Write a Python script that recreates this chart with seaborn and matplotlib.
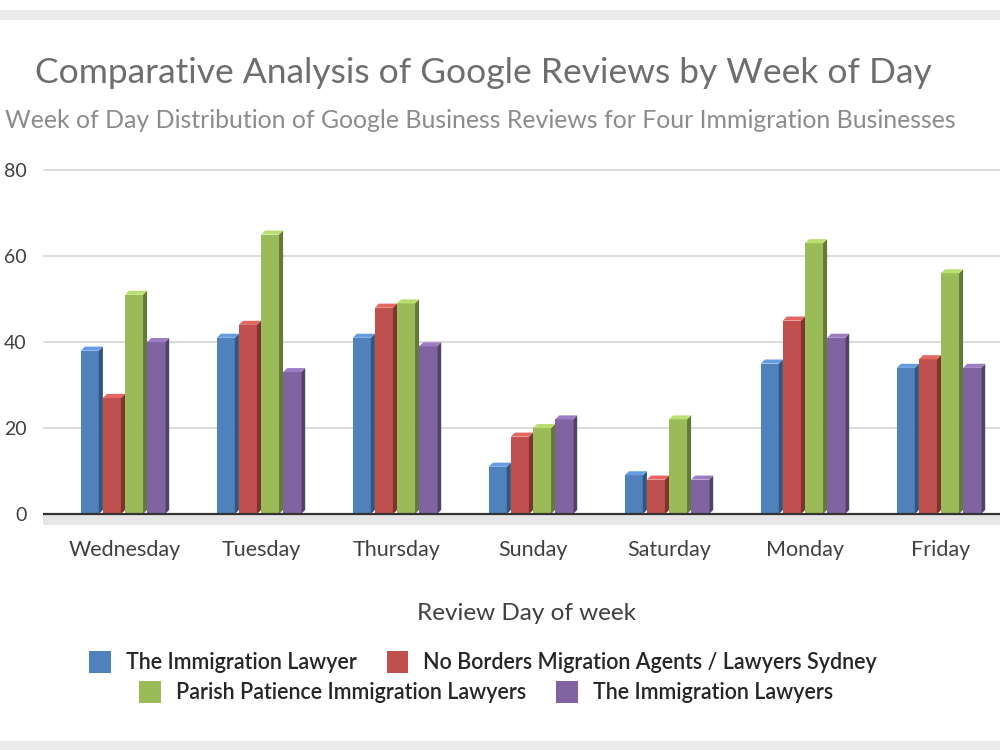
import numpy as np
import pandas as pd
import matplotlib.pyplot as plt
import matplotlib.colors as mcolors
from matplotlib.patches import Polygon, Patch, Rectangle
import seaborn as sns

days = ['Wednesday', 'Tuesday', 'Thursday', 'Sunday', 'Saturday', 'Monday', 'Friday']
series = ['The Immigration Lawyer',
          'No Borders Migration Agents / Lawyers Sydney',
          'Parish Patience Immigration Lawyers',
          'The Immigration Lawyers']
immigration_lawyer = [38, 41, 41, 11, 9, 35, 34]
no_borders = [27, 44, 48, 18, 8, 45, 36]
parish_patience = [51, 65, 49, 20, 22, 63, 56]
immigration_lawyers = [40, 33, 39, 22, 8, 41, 34]
colors = ['#4F81BD', '#C0504D', '#9BBB59', '#8064A2']

df = pd.DataFrame({
    'day': days * 4,
    'series': np.repeat(series, len(days)),
    'reviews': immigration_lawyer + no_borders + parish_patience + immigration_lawyers,
})

sns.set_theme(style='white')
plt.rcParams['font.family'] = ['Lato', 'DejaVu Sans']

fig = plt.figure(figsize=(10, 7.5), dpi=100)
ax = fig.add_axes([0.0434, 0.3003, 0.9656, 0.4757])

sns.barplot(data=df, x='day', y='reviews', hue='series', order=days,
            hue_order=series, palette=colors, width=0.65, legend=False,
            saturation=1, ax=ax)

# fake 3D look: shrink front face, add side and top faces
dx, dy = 0.03, 0.95
for cont, col in zip(ax.containers, colors):
    side = tuple(c * 0.65 for c in mcolors.to_rgb(col))
    top = tuple(min(1, c * 1.12 + 0.05) for c in mcolors.to_rgb(col))
    for bar in cont:
        x, w, h = bar.get_x(), bar.get_width(), bar.get_height()
        bar.set_width(w - dx)
        bar.set_edgecolor('none')
        xr = x + w - dx
        ax.add_patch(Polygon([(xr, 0), (x + w, dy), (x + w, h + dy), (xr, h)],
                             closed=True, facecolor=side, edgecolor='none', zorder=3))
        ax.add_patch(Polygon([(x, h), (x + dx, h + dy), (x + w, h + dy), (xr, h)],
                             closed=True, facecolor=top, edgecolor='none', zorder=3))

ax.set_xlim(-0.6, 6.5)
ax.set_ylim(-2.5, 80.5)
ax.axhspan(-2.5, 0, color='#E6E6E6', zorder=0, lw=0)
ax.axhline(0, color='#333333', lw=1.6, zorder=4)
for yv in [20, 40, 60, 80]:
    ax.axhline(yv, color='#D9D9D9', lw=1.3, zorder=0)
ax.set_yticks([0, 20, 40, 60, 80])
for s in ax.spines.values():
    s.set_visible(False)
ax.tick_params(axis='both', length=0, colors='#404040')
ax.tick_params(axis='y', pad=12, labelsize=14)
ax.tick_params(axis='x', pad=11, labelsize=15.5)
ax.set_ylabel('')
ax.set_xlabel('Review Day of week', fontsize=17.5, color='#404040', labelpad=31)

fig.text(0.035, 0.903, 'Comparative Analysis of Google Reviews by Week of Day',
         fontsize=25.5, color='#6E6E6E', ha='left', va='center')
fig.text(0.005, 0.84, 'Week of Day Distribution of Google Business Reviews for Four Immigration Businesses',
         fontsize=17.9, color='#8C8C8C', ha='left', va='center')

handles = [Patch(facecolor=c, edgecolor='none') for c in colors]
leg_kw = dict(ncol=2, frameon=False, fontsize=15.5, handlelength=1.0, handleheight=1.15,
              columnspacing=1.4, handletextpad=0.7, loc='center')
leg1 = fig.legend(handles[:2], series[:2], bbox_to_anchor=(0.483, 0.117), **leg_kw)
leg2 = fig.legend(handles[2:], series[2:], bbox_to_anchor=(0.486, 0.077), **leg_kw)
for leg in (leg1, leg2):
    for t in leg.get_texts():
        t.set_color('#262626')
        t.set_fontweight('semibold')

fig.patches.append(Rectangle((0, 0.974), 1, 0.013, transform=fig.transFigure,
                             facecolor='#EBEBEB', edgecolor='none'))
fig.patches.append(Rectangle((0, 0), 1, 0.012, transform=fig.transFigure,
                             facecolor='#EBEBEB', edgecolor='none'))

fig.savefig('out.png', dpi=100)
